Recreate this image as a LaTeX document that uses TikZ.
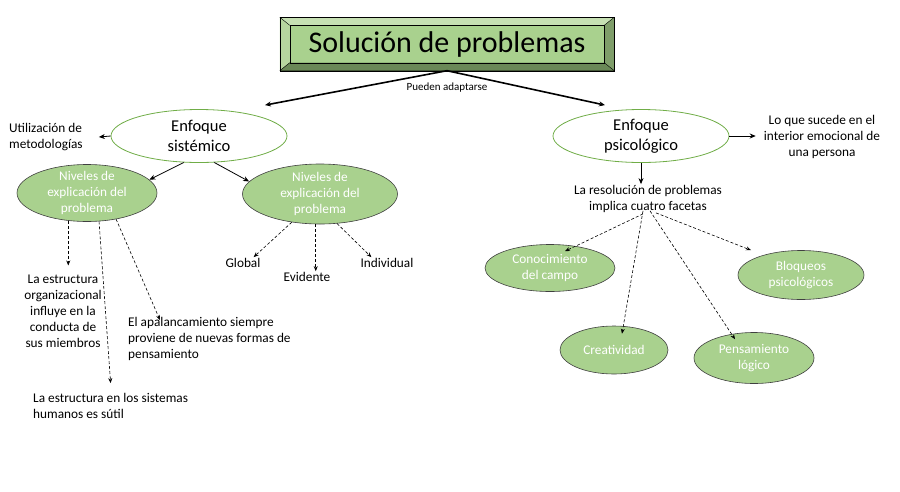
\documentclass[tikz,border=0pt]{standalone}
\usepackage{fontspec}
\setmainfont{Carlito}
\usetikzlibrary{shapes.geometric,arrows.meta}
\definecolor{leaf}{HTML}{A9D18E}
\definecolor{leafhi}{HTML}{C6E0B3}
\definecolor{leafmid}{HTML}{B7D69F}
\definecolor{leaflo}{HTML}{7F9E6A}
\definecolor{leafdk}{HTML}{6A8857}
\definecolor{rim}{HTML}{70AD47}
\tikzstyle{approach} = [ellipse, draw=rim, fill=white, line width=0.8pt, inner sep=0pt, align=center, font=\fontsize{16.5}{20}\selectfont, minimum width=176pt, minimum height=53pt]
\tikzstyle{facet} = [ellipse, draw=black!75, fill=leaf, line width=0.6pt, inner sep=-4pt, align=center, text=white, font=\fontsize{13.3}{16}\selectfont]
\tikzstyle{note} = [align=center, inner sep=1pt, font=\fontsize{13.3}{16}\selectfont]
\tikzstyle{link} = [-{Stealth[length=6pt,width=5pt]}, line width=0.8pt]
\tikzstyle{trail} = [-{Stealth[length=5pt,width=4pt]}, line width=0.6pt, dash pattern=on 3pt off 2pt]

\begin{document}
\begin{tikzpicture}[x=1pt, y=-1pt]
	\useasboundingbox (0,0) rectangle (900,491);
	
	\node[draw, fill=leaf, minimum width=334pt, minimum height=53pt] (title) at (447,44) {};
	\fill[leafhi] (title.north west) -- (title.north east) -- ([shift={(-10,8)}]title.north east) -- ([shift={(10,8)}]title.north west) -- cycle;
	\fill[leafmid] (title.north west) -- ([shift={(10,8)}]title.north west) -- ([shift={(10,-8)}]title.south west) -- (title.south west) -- cycle;
	\fill[leaflo] (title.north east) -- ([shift={(-10,8)}]title.north east) -- ([shift={(-10,-8)}]title.south east) -- (title.south east) -- cycle;
	\fill[leafdk] (title.south west) -- ([shift={(10,-8)}]title.south west) -- ([shift={(-10,-8)}]title.south east) -- (title.south east) -- cycle;
	\draw (title.north west) rectangle (title.south east);
	\draw ([shift={(10,8)}]title.north west) rectangle ([shift={(-10,-8)}]title.south east);
	\draw (title.north west) -- ([shift={(10,8)}]title.north west);
	\draw (title.north east) -- ([shift={(-10,8)}]title.north east);
	\draw (title.south west) -- ([shift={(10,-8)}]title.south west);
	\draw (title.south east) -- ([shift={(-10,-8)}]title.south east);
	\node[font=\fontsize{30}{34}\selectfont] (titletext) at (title.center) {Solución de problemas};
	
	\node[approach] (sis) at (199,136) {Enfoque\\sistémico};
	\node[approach] (psi) at (641,136) {Enfoque\\psicológico};
	\node[font=\fontsize{11}{13}\selectfont] (adapt) at (447,88) {Pueden adaptarse};
	
	\node[note, align=left, anchor=west] (util) at (8,137) {Utilización de\\metodologías};
	\node[facet, minimum width=140pt, minimum height=57pt] (niv1) at (87,193) {Niveles de\\explicación del\\problema};
	\node[facet, minimum width=155pt, minimum height=60pt] (niv2) at (320,194) {Niveles de\\explicación del\\problema};
	
	\node[note] (est1) at (63,311) {La estructura\\organizacional\\influye en la\\conducta de\\sus miembros};
	\node[note, align=left, anchor=west] (apal) at (127,339) {El apalancamiento siempre\\proviene de nuevas formas de\\pensamiento};
	\node[note, align=left, anchor=west] (est2) at (32,406) {La estructura en los sistemas\\humanos es sútil};
	
	\node[note] (glob) at (243,263) {Global};
	\node[note] (evid) at (307,277) {Evidente};
	\node[note] (indiv) at (387,263) {Individual};
	
	\node[note] (lo) at (822,137) {Lo que sucede en el\\interior emocional de\\una persona};
	\node[note] (res) at (648,199) {La resolución de problemas\\implica cuatro facetas};
	
	\node[facet, minimum width=130pt, minimum height=47pt] (cono) at (550,268) {Conocimiento\\del campo};
	\node[facet, minimum width=126pt, minimum height=49pt] (bloq) at (801,275) {Bloqueos\\psicológicos};
	\node[facet, minimum width=108pt, minimum height=48pt] (crea) at (614,350) {Creatividad};
	\node[facet, minimum width=120pt, minimum height=51pt] (pens) at (754,358) {Pensamiento\\lógico};
	
	\draw[link, line width=1.6pt] (title.south) -- ([shift={(66,-4)}]sis.north);
	\draw[link, line width=1.6pt] (title.south) -- ([shift={(-36,-4)}]psi.north);
	\draw[link] (sis.west) -- ([xshift=15pt]util.east);
	\draw[link] (sis.240) -- (niv1.12);
	\draw[link] (sis.300) -- (niv2.170);
	\draw[link] (psi.east) -- ([xshift=-7pt]psi.east -| lo.west);
	\draw[link] (psi.south) -- (psi.south |- res.north);
	
	\draw[trail] (niv1.236) -- ([yshift=8pt]niv1.236 |- est1.north);
	\draw[trail] (niv1.293) -- ([yshift=9pt]est2.north);
	\draw[trail] (niv1.318) -- ([shift={(33,4)}]apal.north west);
	\draw[trail] (niv2.225) -- ([xshift=-8pt]glob.north east);
	\draw[trail] (niv2.262) -- (niv2.262 |- evid.north);
	\draw[trail] (niv2.300) -- ([xshift=12pt]indiv.north west);
	
	\draw[trail] ([xshift=-5pt]res.south) -- ([shift={(15,7)}]cono.north);
	\draw[trail] ([shift={(-5,-3)}]res.south) -- ([shift={(8,8)}]crea.north);
	\draw[trail] ([shift={(2,-3)}]res.south) -- ([shift={(-19,7)}]pens.north);
	\draw[trail] ([shift={(8,-1)}]res.south) -- ([xshift=-50pt]bloq.north);
\end{tikzpicture}
\end{document}
